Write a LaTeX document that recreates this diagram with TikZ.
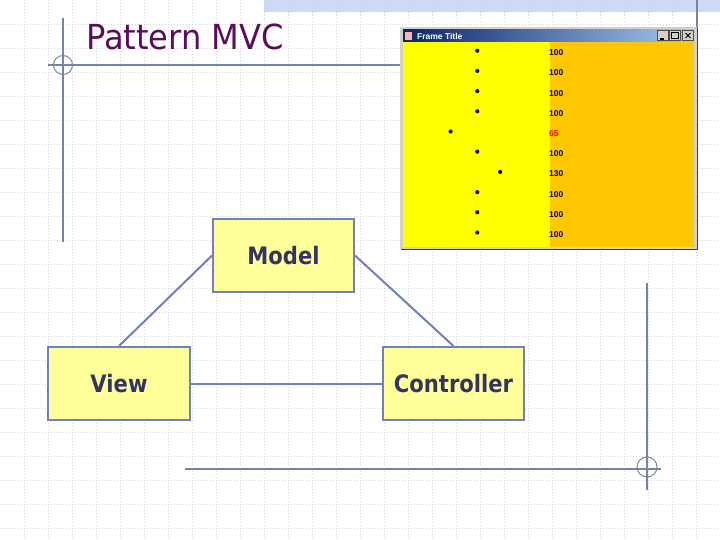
\documentclass[tikz,border=0pt]{standalone}
\usepackage{fontspec}
\newfontfamily\tah[FakeStretch=0.93]{DejaVu Sans}
\newfontfamily\tahb[FakeStretch=0.88]{DejaVu Sans Bold}
\newfontfamily\smallf{Liberation Sans}
\definecolor{gridc}{RGB}{208,210,220}
\definecolor{decoc}{RGB}{118,132,170}
\definecolor{bandc}{RGB}{204,218,246}
\definecolor{titlec}{RGB}{92,12,92}
\definecolor{boxfill}{RGB}{255,255,153}
\definecolor{boxline}{RGB}{112,128,192}
\definecolor{boxtext}{RGB}{52,52,100}
\definecolor{winyellow}{RGB}{255,255,0}
\definecolor{winorange}{RGB}{255,200,0}
\definecolor{wingray}{RGB}{212,208,200}
\definecolor{tbdark}{RGB}{10,36,106}
\definecolor{tblight}{RGB}{166,202,240}
\definecolor{dotc}{RGB}{16,16,64}
\tikzset{
  gridline/.style={gridc, line width=0.8pt, dash pattern=on 1pt off 2pt},
  deco/.style={decoc, line width=1.4pt},
  mvcbox/.style={draw=boxline, fill=boxfill, line width=2pt, inner sep=0pt,
    minimum width=141pt, minimum height=73pt, text=boxtext,
    font=\tahb\fontsize{24}{28}\selectfont},
  conn/.style={boxline, line width=2pt},
  val/.style={anchor=west, inner sep=0pt, font=\smallf\bfseries\fontsize{8.5}{9}\selectfont},
  btn/.style={draw=black!70, fill=wingray, line width=0.6pt, minimum width=11pt, minimum height=10pt, inner sep=0pt}
}
\begin{document}
\begin{tikzpicture}[x=1pt,y=-1pt]
\useasboundingbox (0,0) rectangle (720,540);
\fill[white] (0,0) rectangle (720,540);
% top band
\fill[bandc] (264,0) rectangle (720,12.5);
% grid
\foreach \x in {24,48,...,696} \draw[gridline] (\x,0) -- (\x,540);
\foreach \y in {24,48,...,528} \draw[gridline] (0,\y) -- (720,\y);
% decorative lines
\draw[deco] (63,18) -- (63,242);
\draw[deco] (48,65) -- (400,65);
\draw[decoc, line width=1pt] (63,65) circle (9.5);
\draw[deco] (185,469) -- (661,469);
\draw[deco] (647,283) -- (647,490);
\draw[decoc, line width=1pt] (647,467) circle (10);
\draw[deco] (697,0) -- (697,30);
% title
\node[anchor=base west, inner sep=0pt, text=titlec, font=\tah\fontsize{34.5}{40}\selectfont] (title) at (86,50) {Pattern MVC};
% window
\fill[black!75] (401,28) rectangle (698,250);
\fill[wingray] (400,27) rectangle (696.5,248.5);
\shade[left color=tbdark, right color=tblight] (403,30) rectangle (694,42);
\fill[winyellow] (403,42) rectangle (550,247);
\fill[winorange] (550,42) rectangle (694,247);
\node[anchor=west, inner sep=0pt, text=white, font=\smallf\bfseries\fontsize{8.5}{9}\selectfont] (ftitle) at (417,36) {Frame Title};
\fill[white!70!red] (405,32) -- (412,32) -- (412,40) -- (405,40) -- cycle;
\node[btn] (b1) at (663,35.5) {};
\node[btn] (b2) at (675,35.5) {};
\node[btn] (b3) at (688,35.5) {};
\draw[black, line width=1.2pt] (660,39) -- (664,39);
\draw[black, line width=0.8pt] (671.5,32.5) rectangle (678.5,38.5);
\draw[black, line width=0.9pt] (685.5,33) -- (690.5,38) (690.5,33) -- (685.5,38);
\foreach \v [count=\i from 0] in {100,100,100,100,65,100,130,100,100,100} {
  \pgfmathsetmacro{\yy}{50.7+20.2*\i}
  \pgfmathsetmacro{\xx}{401+0.763*\v}
  \fill[dotc] (\xx,\yy) circle (2.1);
  \ifnum\v=65
    \node[val, text=red] at (549,\yy+2) {\v};
  \else
    \node[val] at (549,\yy+2) {\v};
  \fi
}
% MVC boxes
\node[mvcbox] (model) at (283.5,255.5) {Model};
\node[mvcbox, minimum width=142pt] (view) at (119,383.5) {View};
\node[mvcbox] (controller) at (453.5,383.5) {Controller};
\draw[conn] (model.west) -- (view.north);
\draw[conn] (model.east) -- (controller.north);
\draw[conn] (view.east) -- (controller.west);
\end{tikzpicture}
\end{document}
